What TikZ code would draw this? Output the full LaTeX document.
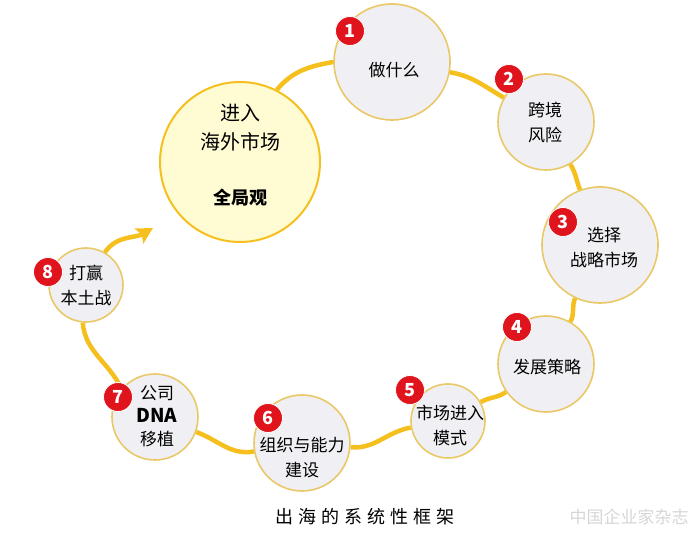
\documentclass[tikz,border=0pt]{standalone}
\usepackage{fontspec}
\setmainfont{Noto Sans CJK SC}
\usetikzlibrary{arrows.meta}
\definecolor{ringgold}{HTML}{F5BF1E}
\definecolor{rimgold}{HTML}{E9C867}
\definecolor{hubfill}{HTML}{FFFBD3}
\definecolor{stagefill}{HTML}{F0F0F4}
\definecolor{badgered}{HTML}{E0141C}
\definecolor{markgray}{HTML}{D6D6D6}

\begin{document}
\begin{tikzpicture}[
  x=1pt, y=1pt, >=Stealth,
  font=\fontsize{17}{25}\selectfont,
  hub/.style={circle, draw=ringgold, line width=2pt, fill=hubfill,
    minimum size=160pt, inner sep=0pt},
  stage/.style={circle, draw=rimgold, line width=1.6pt, fill=stagefill, inner sep=0pt},
  txt/.style={align=center, inner sep=0pt},
  badge/.style={circle, fill=badgered, draw=white, line width=0.8pt, minimum size=29pt,
    inner sep=0pt, text=white, font=\fontsize{18}{18}\selectfont\bfseries},
  ring/.style={draw=ringgold, line width=4.5pt},
]
\useasboundingbox (0,0) rectangle (700,535);

\node[hub] (c) at (240,373) {};
\node[txt, font=\fontsize{20}{29}\selectfont] (ct) at (240,380)
  {进入\\海外市场\\[26pt]{\fontsize{18}{18}\selectfont\bfseries 全局观}};

\node[stage, minimum size=116pt] (s1) at (392,473) {};
\node[stage, minimum size=96pt]  (s2) at (546,413) {};
\node[stage, minimum size=116pt] (s3) at (600,290) {};
\node[stage, minimum size=96pt]  (s4) at (546,171) {};
\node[stage, minimum size=74pt]  (s5) at (448,114) {};
\node[stage, minimum size=96pt]  (s6) at (302,92)  {};
\node[stage, minimum size=86pt]  (s7) at (155,118) {};
\node[stage, minimum size=74pt]  (s8) at (86,250)  {};

\node[txt] (t1) at (394,465) {做什么};
\node[txt] (t2) at (545,412) {跨境\\风险};
\node[txt] (t3) at (604,287) {选择\\战略市场};
\node[txt] (t4) at (547,168) {发展策略};
\node[txt] (t5) at (450,110) {市场进入\\模式};
\node[txt] (t6) at (302,77)  {组织与能力\\建设};
\node[txt, font=\fontsize{17}{23}\selectfont] (t7) at (157,119)
  {公司\\{\fontsize{19}{19}\selectfont\bfseries DNA}\\移植};
\node[txt] (t8) at (86,250)  {打赢\\本土战};

\coordinate (back) at (153,307);
\draw[ring] (c.63) to[out=50,in=190] (s1.180);
\draw[ring] (s1) to[out=-10,in=150] (s2);
\draw[ring] (s2) to[out=-60,in=110] (s3);
\draw[ring] (s3) to[out=-115,in=60] (s4);
\draw[ring] (s4) to[out=-145,in=30] (s5);
\draw[ring] (s5) to[out=190,in=-5] (s6);
\draw[ring] (s6) to[out=190,in=-20] (s7);
\draw[ring] (s7.140) to[out=115,in=-85] (s8.-95);
\draw[ring, -{Stealth[length=16pt,width=17pt,inset=3pt]}] (s8.60) to[out=55,in=210] (back);

\node[badge] (b1) at (350,504) {1};
\node[badge] (b2) at (509,456) {2};
\node[badge] (b3) at (563,313) {3};
\node[badge] (b4) at (517,208) {4};
\node[badge] (b5) at (410,145) {5};
\node[badge] (b6) at (268,117) {6};
\node[badge] (b7) at (118,138) {7};
\node[badge] (b8) at (48,263)  {8};

\node[txt, font=\fontsize{18}{18}\selectfont\addfontfeature{LetterSpace=28}] (cap)
  at (365,18) {出海的系统性框架};
\node[txt, text=markgray, font=\fontsize{17}{17}\selectfont] (mark)
  at (629,18) {中国企业家杂志};
\end{tikzpicture}
\end{document}
